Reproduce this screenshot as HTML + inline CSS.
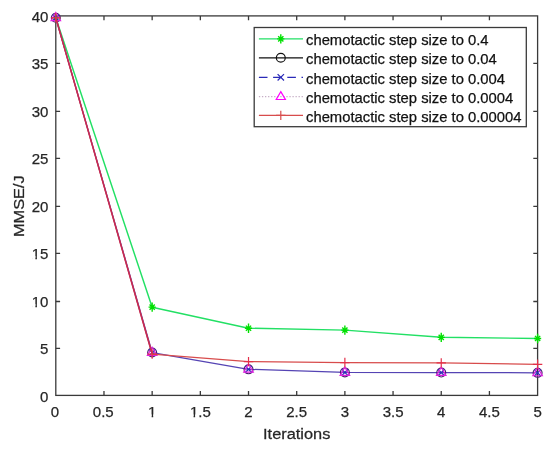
<!DOCTYPE html>
<html><head><meta charset="utf-8"><title>MMSE vs Iterations</title>
<style>html,body{margin:0;padding:0;background:#fff;width:550px;height:452px;overflow:hidden}svg{display:block}</style>
</head><body>
<svg width="550" height="452" viewBox="0 0 550 452">
<rect width="550" height="452" fill="#fff"/>
<path d="M103.98 395.40V391.10M103.98 15.90V20.20M152.16 395.40V391.10M152.16 15.90V20.20M200.34 395.40V391.10M200.34 15.90V20.20M248.52 395.40V391.10M248.52 15.90V20.20M296.70 395.40V391.10M296.70 15.90V20.20M344.88 395.40V391.10M344.88 15.90V20.20M393.06 395.40V391.10M393.06 15.90V20.20M441.24 395.40V391.10M441.24 15.90V20.20M489.42 395.40V391.10M489.42 15.90V20.20M55.80 348.40H60.10M537.60 348.40H533.30M55.80 301.50H60.10M537.60 301.50H533.30M55.80 253.40H60.10M537.60 253.40H533.30M55.80 206.40H60.10M537.60 206.40H533.30M55.80 158.40H60.10M537.60 158.40H533.30M55.80 111.40H60.10M537.60 111.40H533.30M55.80 63.30H60.10M537.60 63.30H533.30" stroke="#3a3a3a" stroke-width="1.3" fill="none"/>
<rect x="55.80" y="15.90" width="481.80" height="379.50" stroke="#3a3a3a" stroke-width="1.3" fill="none"/>
<g font-family="Liberation Sans, Arial, sans-serif" font-size="15" fill="#262626" stroke="#262626" stroke-width="0.25">
<text x="54.90" y="417.30" text-anchor="middle">0</text>
<text x="103.28" y="417.30" text-anchor="middle">0.5</text>
<text x="152.16" y="417.30" text-anchor="middle">1</text>
<text x="200.34" y="417.30" text-anchor="middle">1.5</text>
<text x="248.52" y="417.30" text-anchor="middle">2</text>
<text x="296.70" y="417.30" text-anchor="middle">2.5</text>
<text x="344.88" y="417.30" text-anchor="middle">3</text>
<text x="393.06" y="417.30" text-anchor="middle">3.5</text>
<text x="441.24" y="417.30" text-anchor="middle">4</text>
<text x="489.42" y="417.30" text-anchor="middle">4.5</text>
<text x="537.60" y="417.30" text-anchor="middle">5</text>
<text x="48.40" y="401.97" text-anchor="end">0</text>
<text x="48.40" y="353.77" text-anchor="end">5</text>
<text x="48.40" y="306.87" text-anchor="end">10</text>
<text x="48.40" y="258.77" text-anchor="end">15</text>
<text x="48.40" y="211.77" text-anchor="end">20</text>
<text x="48.40" y="163.77" text-anchor="end">25</text>
<text x="48.40" y="116.77" text-anchor="end">30</text>
<text x="48.40" y="68.67" text-anchor="end">35</text>
<text x="48.40" y="21.77" text-anchor="end">40</text>
</g>
<path d="M148.49 414.50H151.65V419.10H148.49ZM153.20 414.50H156.24V419.10H153.20ZM190.41 414.50H193.58V419.10H190.41ZM195.12 414.50H198.17V419.10H195.12ZM32.22 304.07H35.38V308.67H32.22ZM36.93 304.07H39.97V308.67H36.93ZM32.22 255.97H35.38V260.57H32.22ZM36.93 255.97H39.97V260.57H36.93Z" fill="#fff"/>
<text transform="translate(296.70 438.50) scale(1.07 1)" text-anchor="middle" font-family="Liberation Sans, Arial, sans-serif" font-size="15.3" fill="#262626" stroke="#262626" stroke-width="0.25">Iterations</text>
<text transform="translate(23.70 206.20) rotate(-90) scale(1.07 1)" text-anchor="middle" font-family="Liberation Sans, Arial, sans-serif" font-size="15.3" fill="#262626" stroke="#262626" stroke-width="0.25">MMSE/J</text>
<polyline points="55.80,17.80 152.16,307.17 248.52,328.23 344.88,330.13 441.24,337.34 537.60,338.47" fill="none" stroke="#22e064" stroke-width="1.45" stroke-linejoin="round"/>
<path d="M52.20 17.80H59.40M55.80 13.10V22.50M53.20 15.20L58.40 20.40M53.20 20.40L58.40 15.20" stroke="#00e000" stroke-width="1.4" fill="none"/>
<path d="M148.56 307.17H155.76M152.16 302.47V311.87M149.56 304.57L154.76 309.77M149.56 309.77L154.76 304.57" stroke="#00e000" stroke-width="1.4" fill="none"/>
<path d="M244.92 328.23H252.12M248.52 323.53V332.93M245.92 325.63L251.12 330.83M245.92 330.83L251.12 325.63" stroke="#00e000" stroke-width="1.4" fill="none"/>
<path d="M341.28 330.13H348.48M344.88 325.43V334.83M342.28 327.53L347.48 332.73M342.28 332.73L347.48 327.53" stroke="#00e000" stroke-width="1.4" fill="none"/>
<path d="M437.64 337.34H444.84M441.24 332.64V342.04M438.64 334.74L443.84 339.94M438.64 339.94L443.84 334.74" stroke="#00e000" stroke-width="1.4" fill="none"/>
<path d="M534.00 338.47H541.20M537.60 333.77V343.17M535.00 335.87L540.20 341.07M535.00 341.07L540.20 335.87" stroke="#00e000" stroke-width="1.4" fill="none"/>
<polyline points="55.80,17.80 152.16,352.52 248.52,369.31 344.88,372.44 441.24,372.54 537.60,372.82" fill="none" stroke="#5544b4" stroke-width="1.25" stroke-linejoin="round"/>
<circle cx="55.80" cy="17.80" r="4.45" stroke="#4a1c70" stroke-width="1.2" fill="none"/>
<circle cx="152.16" cy="352.52" r="4.45" stroke="#4a1c70" stroke-width="1.2" fill="none"/>
<circle cx="248.52" cy="369.31" r="4.45" stroke="#4a1c70" stroke-width="1.2" fill="none"/>
<circle cx="344.88" cy="372.44" r="4.45" stroke="#4a1c70" stroke-width="1.2" fill="none"/>
<circle cx="441.24" cy="372.54" r="4.45" stroke="#4a1c70" stroke-width="1.2" fill="none"/>
<circle cx="537.60" cy="372.82" r="4.45" stroke="#4a1c70" stroke-width="1.2" fill="none"/>
<path d="M52.60 14.60L59.00 21.00M52.60 21.00L59.00 14.60" stroke="#2a2ab8" stroke-width="1.2" fill="none"/>
<path d="M148.96 349.32L155.36 355.72M148.96 355.72L155.36 349.32" stroke="#2a2ab8" stroke-width="1.2" fill="none"/>
<path d="M245.32 366.11L251.72 372.51M245.32 372.51L251.72 366.11" stroke="#2a2ab8" stroke-width="1.2" fill="none"/>
<path d="M341.68 369.24L348.08 375.64M341.68 375.64L348.08 369.24" stroke="#2a2ab8" stroke-width="1.2" fill="none"/>
<path d="M438.04 369.34L444.44 375.74M438.04 375.74L444.44 369.34" stroke="#2a2ab8" stroke-width="1.2" fill="none"/>
<path d="M534.40 369.62L540.80 376.02M534.40 376.02L540.80 369.62" stroke="#2a2ab8" stroke-width="1.2" fill="none"/>
<path d="M55.80 12.50L60.57 20.71L51.03 20.71Z" stroke="#e020e0" stroke-width="1.2" fill="none"/>
<path d="M152.16 347.22L156.93 355.43L147.39 355.43Z" stroke="#e020e0" stroke-width="1.2" fill="none"/>
<path d="M248.52 364.01L253.29 372.22L243.75 372.22Z" stroke="#e020e0" stroke-width="1.2" fill="none"/>
<path d="M344.88 367.14L349.65 375.36L340.11 375.36Z" stroke="#e020e0" stroke-width="1.2" fill="none"/>
<path d="M441.24 367.24L446.01 375.45L436.47 375.45Z" stroke="#e020e0" stroke-width="1.2" fill="none"/>
<path d="M537.60 367.52L542.37 375.73L532.83 375.73Z" stroke="#e020e0" stroke-width="1.2" fill="none"/>
<polyline points="55.80,17.80 152.16,354.03 248.52,361.62 344.88,362.57 441.24,362.86 537.60,364.28" fill="none" stroke="#d84c4c" stroke-width="1.25" stroke-linejoin="round"/>
<path d="M55.80 17.80L152.16 354.03" stroke="#c42a55" stroke-width="1.5" fill="none"/>
<path d="M51.10 17.80H60.50M55.80 13.10V22.50" stroke="#e3304a" stroke-width="1.2" fill="none"/>
<path d="M147.46 354.03H156.86M152.16 349.33V358.73" stroke="#e3304a" stroke-width="1.2" fill="none"/>
<path d="M243.82 361.62H253.22M248.52 356.92V366.32" stroke="#e3304a" stroke-width="1.2" fill="none"/>
<path d="M340.18 362.57H349.58M344.88 357.87V367.27" stroke="#e3304a" stroke-width="1.2" fill="none"/>
<path d="M436.54 362.86H445.94M441.24 358.16V367.56" stroke="#e3304a" stroke-width="1.2" fill="none"/>
<path d="M532.90 364.28H542.30M537.60 359.58V368.98" stroke="#e3304a" stroke-width="1.2" fill="none"/>
<rect x="254.2" y="27.5" width="272.09999999999997" height="99.2" fill="#fff" stroke="#3a3a3a" stroke-width="1.3"/>
<path d="M258.9 38.85H303.0" stroke="#22e064" stroke-width="1.45"/>
<path d="M277.20 38.85H284.40M280.80 34.15V43.55M278.20 36.25L283.40 41.45M278.20 41.45L283.40 36.25" stroke="#00e000" stroke-width="1.4" fill="none"/>
<text x="306.0" y="44.90" stroke="#111" stroke-width="0.25" font-family="Liberation Sans, Arial, sans-serif" font-size="14.8" fill="#111">chemotactic step size to 0.4</text>
<path d="M258.9 57.75H303.0" stroke="#111" stroke-width="1.25"/>
<circle cx="280.80" cy="57.75" r="4.45" stroke="#111" stroke-width="1.2" fill="none"/>
<text x="306.0" y="64.20" stroke="#111" stroke-width="0.25" font-family="Liberation Sans, Arial, sans-serif" font-size="14.8" fill="#111">chemotactic step size to 0.04</text>
<path d="M258.9 77.3H303.0" stroke="#2a2ab8" stroke-width="1.25" stroke-dasharray="8.6 5.6"/>
<path d="M277.60 74.10L284.00 80.50M277.60 80.50L284.00 74.10" stroke="#2a2ab8" stroke-width="1.2" fill="none"/>
<text x="306.0" y="83.50" stroke="#111" stroke-width="0.25" font-family="Liberation Sans, Arial, sans-serif" font-size="14.8" fill="#111">chemotactic step size to 0.004</text>
<path d="M258.9 96.7H303.0" stroke="#c6aec6" stroke-width="1.25" stroke-dasharray="1.3 1.75"/>
<path d="M280.80 91.60L285.39 99.51L276.21 99.51Z" stroke="#ff00ff" stroke-width="1.2" fill="none"/>
<text x="306.0" y="102.80" stroke="#111" stroke-width="0.25" font-family="Liberation Sans, Arial, sans-serif" font-size="14.8" fill="#111">chemotactic step size to 0.0004</text>
<path d="M258.9 115.4H303.0" stroke="#d84c4c" stroke-width="1.25"/>
<path d="M276.10 115.40H285.50M280.80 110.70V120.10" stroke="#d84c4c" stroke-width="1.2" fill="none"/>
<text x="306.0" y="122.10" stroke="#111" stroke-width="0.25" font-family="Liberation Sans, Arial, sans-serif" font-size="14.8" fill="#111">chemotactic step size to 0.00004</text>
</svg>
</body></html>
